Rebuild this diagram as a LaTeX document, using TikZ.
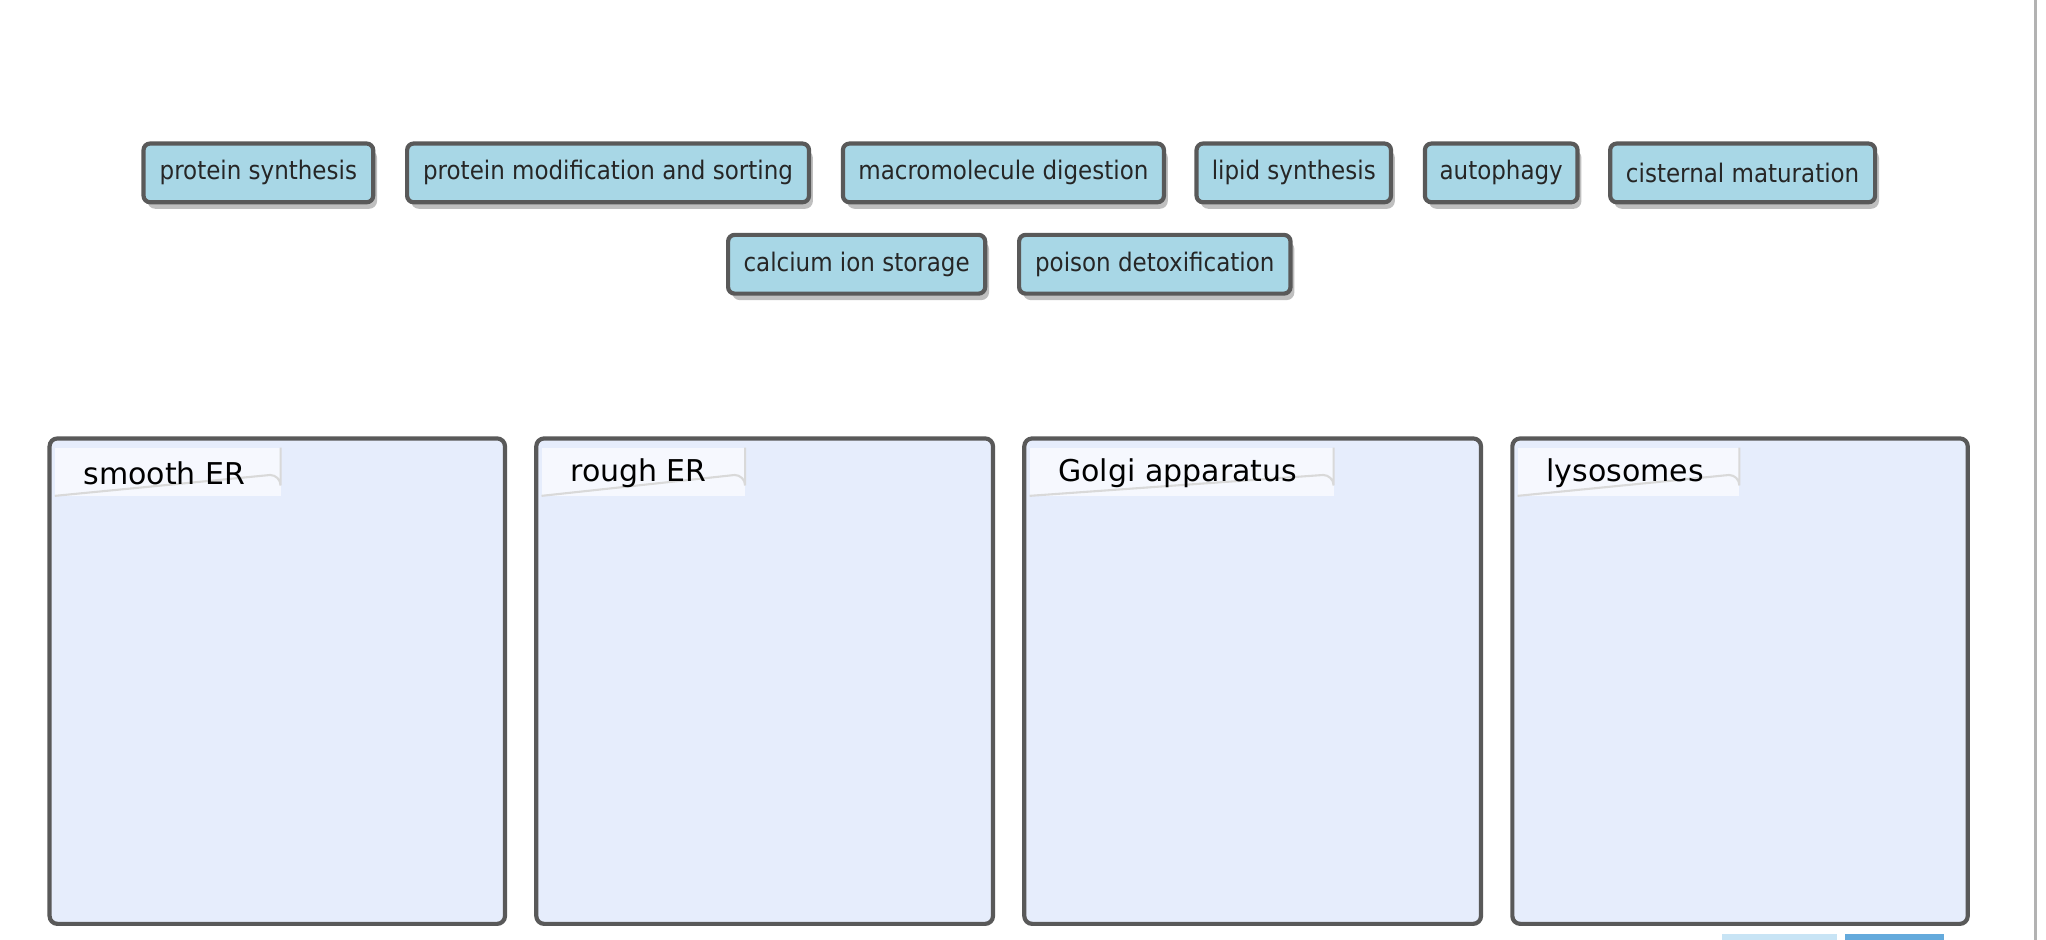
\documentclass[tikz,border=0pt]{standalone}
\usepackage{fontspec}
\setmainfont{DejaVu Sans}
\newfontfamily\chipfont{DejaVu Sans Condensed}
\definecolor{chipfill}{RGB}{168,215,230}
\definecolor{boxfill}{RGB}{230,237,252}
\definecolor{tabfill}{RGB}{246,248,254}
\definecolor{btnA}{RGB}{200,228,245}
\definecolor{btnB}{RGB}{100,170,220}
\begin{document}
\begin{tikzpicture}[x=0.5pt,y=-0.5pt,
 chip/.style={draw=black!65,line width=1.6pt,rounded corners=2.5pt,fill=chipfill,font=\chipfont\fontsize{9.8}{11}\selectfont,text=black!85},
 box/.style={draw=black!65,line width=1.6pt,rounded corners=3pt,fill=boxfill},
 lbl/.style={anchor=west,font=\fontsize{11.5}{13}\selectfont,text=black}]
\useasboundingbox (0,0) rectangle (1568,720);
\foreach \a/\b/\y/\t/\n in {110/286/110/protein synthesis/c1,312/620/110/protein modification and sorting/c2,646/892/110/macromolecule digestion/c3,917/1066/110/lipid synthesis/c4,1092/1209/110/autophagy/c5,1234/1437/110/cisternal maturation/c6,558/755/180/calcium ion storage/c7,781/989/180/poison detoxification/c8}{
 \fill[black!25,rounded corners=3pt] (\a+3,\y+5) rectangle (\b+3,\y+50);
 \node[chip,minimum height=22.5pt,minimum width={(\b-\a)*0.5pt},inner sep=0pt] (\n) at ({(\a+\b)/2},\y+22.5) {\t};
}
\foreach \a/\b/\tb/\t/\n in {38/387/215/smooth ER/b1,411/761/571/rough ER/b2,785/1135/1022/Golgi apparatus/b3,1159/1508/1333/lysosomes/b4}{
 \node[box,minimum width={(\b-\a)*0.5pt},minimum height=186pt,inner sep=0pt] (\n) at ({(\a+\b)/2},522) {};
 \fill[tabfill] (\a+4,343) rectangle (\tb,380);
 \draw[black!15,line width=0.8pt] (\tb,343) -- (\tb,372) arc(0:-90:8) -- (\a+4,380);
 \node[lbl] (\n t) at (\a+19,363) {\t};
}
\fill[btnA] (1320,716) rectangle (1408,720);
\fill[btnB] (1414,716) rectangle (1490,720);
\draw[black!30,line width=1pt] (1560,0) -- (1560,720);
\end{tikzpicture}
\end{document}
